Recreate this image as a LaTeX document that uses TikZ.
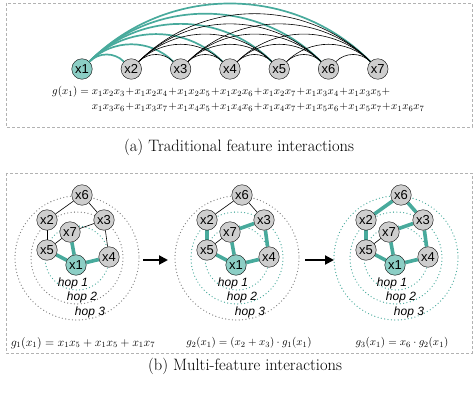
\documentclass[tikz,border=0pt]{standalone}
\usepackage{fontspec}
\newfontfamily\featfont{Liberation Sans}
\usetikzlibrary{arrows.meta,backgrounds}
\definecolor{tealedge}{RGB}{72,170,156}
\definecolor{tealfill}{RGB}{140,206,197}
\definecolor{featgray}{RGB}{206,206,206}
\tikzset{
  feat/.style={circle, draw=black, thin, fill=featgray, minimum size=20.5pt, inner sep=0pt,
    font=\featfont\fontsize{13}{14}\selectfont},
  featroot/.style={feat, fill=tealfill},
  panelbox/.style={draw=gray!60, line width=0.7pt, dash pattern=on 3pt off 2pt},
  thinarc/.style={draw=black, line width=0.6pt},
  hotarc/.style={draw=tealedge, line width=1.7pt},
  thinedge/.style={draw=black, line width=0.6pt},
  hotedge/.style={draw=tealedge, line width=3.6pt},
  hopring/.style={line width=1.3pt, line cap=round, dash pattern=on 0pt off 3.4pt},
  hoplabel/.style={font=\featfont\itshape\fontsize{12}{13}\selectfont, inner sep=0pt},
  stepline/.style={line width=2pt, -{Triangle[length=9pt,width=9pt]}},
  eqline/.style={anchor=base west, inner sep=0pt, font=\fontsize{10.8}{13}\selectfont},
  caption/.style={font=\fontsize{16.5}{18}\selectfont, inner sep=0pt}
}

\begin{document}
\begin{tikzpicture}[x=1pt, y=-1pt]
\useasboundingbox (0,0) rectangle (474,401);

% Dashed frames
\draw[panelbox] (6,3) rectangle (472,127);
\draw[panelbox] (6,173) rectangle (472,353);

% Traditional: all pairs
\foreach \i [evaluate=\i as \tx using 82+49.3*(\i-1)] in {1,...,7} {
  \ifnum\i=1
    \node[featroot] (t\i) at (\tx,69) {x\i};
  \else
    \node[feat] (t\i) at (\tx,69) {x\i};
  \fi
}
\foreach \j in {2,...,7}
  \draw[hotarc] (t1) to[out=45,in=135] (t\j);
\foreach \i in {2,...,6} {
  \pgfmathtruncatemacro\nexti{\i+1}
  \foreach \j in {\nexti,...,7}
    \draw[thinarc] (t\i) to[out=45,in=135] (t\j);
}

\node[eqline] (gtop) at (52,95)
  {\medmuskip=1mu $g(x_1) = x_1x_2x_3+x_1x_2x_4+x_1x_2x_5+x_1x_2x_6+x_1x_2x_7+x_1x_3x_4+x_1x_3x_5+$};
\node[eqline] (gtopb) at (52,110)
  {\medmuskip=1mu $\phantom{g(x_1) = {}}x_1x_3x_6+x_1x_3x_7+x_1x_4x_5+x_1x_4x_6+x_1x_4x_7+x_1x_5x_6+x_1x_5x_7+x_1x_6x_7$};

\node[caption] (capa) at (239,147) {(a)\ Traditional feature interactions};

% Multi-feature: three hops
\foreach \p/\ox in {1/76, 2/236, 3/395} {
  \foreach \i/\dx/\dy in {1/0/0, 2/-29/-45, 3/28/-45, 4/33/-8, 5/-29/-15, 6/6/-70, 7/-6/-33} {
    \ifnum\i=1
      \node[featroot] (p\p x\i) at ({\ox+\dx},{265+\dy}) {x\i};
    \else
      \node[feat] (p\p x\i) at ({\ox+\dx},{265+\dy}) {x\i};
    \fi
  }
  \begin{scope}[on background layer]
    \foreach \k/\r in {1/32, 2/46, 3/62} {
      \ifnum\k>\p
        \draw[hopring, gray] ({\ox+1},258) circle[radius=\r];
      \else
        \draw[hopring, tealedge] ({\ox+1},258) circle[radius=\r];
      \fi
    }
    \foreach \a/\b/\h in {6/2/3, 6/3/3, 2/5/2, 7/3/2, 3/4/2, 5/7/9, 1/7/1, 1/5/1, 1/4/1} {
      \ifnum\h>\p
        \draw[thinedge] (p\p x\a) -- (p\p x\b);
      \else
        \draw[hotedge] (p\p x\a) -- (p\p x\b);
      \fi
    }
  \end{scope}
  \node[hoplabel] (p\p hop1) at ({\ox-3},283) {hop 1};
  \node[hoplabel] (p\p hop2) at ({\ox+6},297) {hop 2};
  \node[hoplabel] (p\p hop3) at ({\ox+14},312) {hop 3};
}

\node[font=\fontsize{11.5}{13}\selectfont, inner sep=0pt] (g1) at (83,343) {$g_1(x_1) = x_1x_5 + x_1x_5 + x_1x_7$};
\node[font=\fontsize{11}{13}\selectfont, inner sep=0pt] (g2) at (249,343) {$g_2(x_1) = (x_2 + x_3)\cdot g_1(x_1)$};
\node[font=\fontsize{11}{13}\selectfont, inner sep=0pt] (g3) at (402,343) {$g_3(x_1) = x_6\cdot g_2(x_1)$};

% Steps
\coordinate (s1a) at (143,260);
\coordinate (s1b) at (168,260);
\coordinate (s2a) at (305,260);
\coordinate (s2b) at (334,260);
\draw[stepline] (s1a) -- (s1b);
\draw[stepline] (s2a) -- (s2b);

\node[caption] (capb) at (245,366) {(b)\ Multi-feature interactions};
\end{tikzpicture}
\end{document}
